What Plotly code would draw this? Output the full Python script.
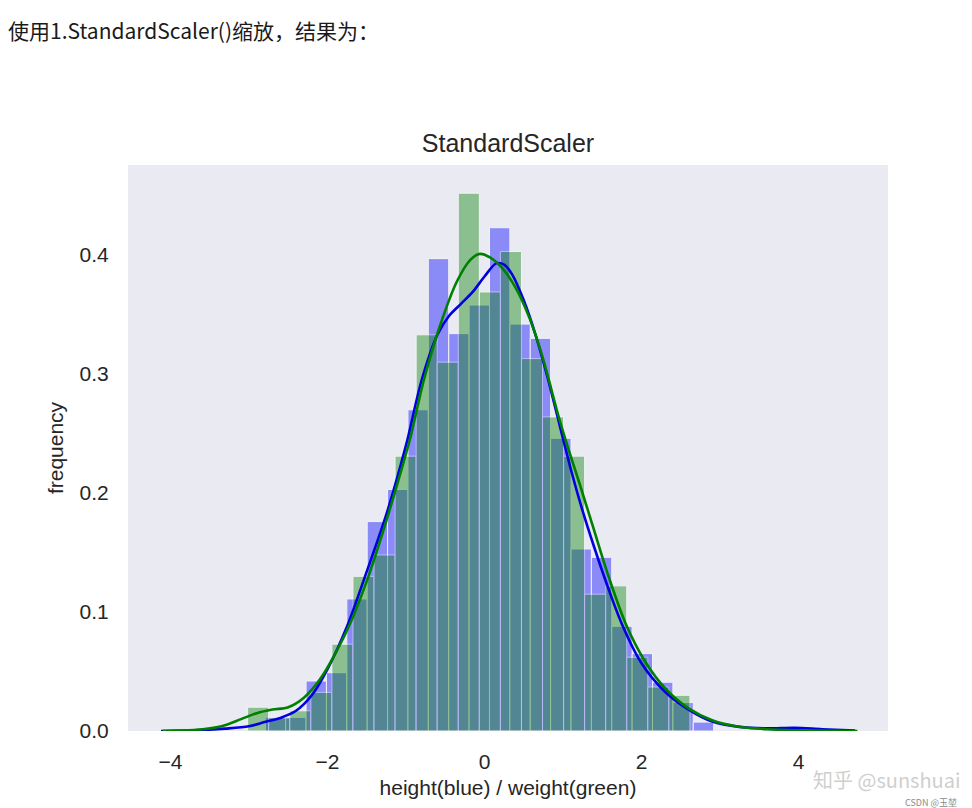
import numpy as np
import plotly.graph_objects as go

# ---------------- data ----------------
blue_bin_start = -2.792
blue_bin_width = 0.2596
blue_density = [0.0115, 0.0115, 0.042, 0.049, 0.111, 0.176, 0.203, 0.270, 0.397, 0.334,
                0.358, 0.423, 0.342, 0.330, 0.246, 0.153, 0.146, 0.088, 0.065, 0.041,
                0.024, 0.0075]

green_bin_start = -3.017
green_bin_width = 0.2683
green_density = [0.020, 0.011, 0.017, 0.0325, 0.073, 0.130, 0.148, 0.231, 0.333, 0.310,
                 0.452, 0.369, 0.403, 0.313, 0.264, 0.231, 0.115, 0.122, 0.062, 0.037,
                 0.030]

blue_kde_x = [-4.12, -3.7, -3.3, -3.0, -2.8, -2.6, -2.4, -2.2, -2.0, -1.75, -1.5, -1.25,
              -1.0, -0.8, -0.6, -0.45, -0.3, -0.15, 0.0, 0.15, 0.25, 0.35, 0.5, 0.65, 0.8,
              0.95, 1.1, 1.25, 1.4, 1.55, 1.75, 2.0, 2.3, 2.6, 2.9, 3.25, 3.6, 3.95, 4.3, 4.72]
blue_kde_y = [0.0, 0.0005, 0.002, 0.004, 0.0075, 0.011, 0.017, 0.030, 0.052, 0.088, 0.134, 0.182,
              0.240, 0.295, 0.333, 0.349, 0.359, 0.369, 0.382, 0.393, 0.392, 0.384, 0.362, 0.333, 0.298,
              0.259, 0.220, 0.185, 0.154, 0.125, 0.090, 0.057, 0.033, 0.018, 0.008, 0.0035, 0.0022, 0.0027, 0.0015, 0.0003]

green_kde_x = [-4.1, -3.7, -3.35, -3.1, -2.9, -2.7, -2.5, -2.3, -2.1, -1.9, -1.7, -1.5, -1.3,
               -1.1, -0.95, -0.78, -0.57, -0.35, -0.18, -0.06, 0.07, 0.24, 0.41, 0.58, 0.75,
               0.92, 1.05, 1.22, 1.39, 1.56, 1.8, 2.05, 2.3, 2.6, 2.9, 3.2, 3.6, 4.0, 4.4, 4.75]
green_kde_y = [0.0, 0.0008, 0.004, 0.010, 0.015, 0.018, 0.020, 0.028, 0.043, 0.065, 0.092, 0.126, 0.166,
               0.210, 0.245, 0.293, 0.340, 0.378, 0.396, 0.401, 0.398, 0.388, 0.371, 0.346, 0.312,
               0.270, 0.241, 0.206, 0.170, 0.134, 0.090, 0.058, 0.036, 0.019, 0.009, 0.004, 0.0015, 0.0006, 0.0002, 0.0]

x_tick_vals = [-4, -2, 0, 2, 4]
x_tick_text = ["\u22124", "\u22122", "0", "2", "4"]
y_tick_vals = [0.0, 0.1, 0.2, 0.3, 0.4]
y_tick_text = ["0.0", "0.1", "0.2", "0.3", "0.4"]

heading = "使用1.StandardScaler()缩放，结果为："
chart_title = "StandardScaler"
x_title = "height(blue) / weight(green)"
y_title = "frequency"
watermark = "知乎 @sunshuai"
credit = "CSDN @玉堃"

# ---------------- figure ----------------
W, H = 972, 808
L, R, T, B = 128, 84, 165, 77
PW, PH = W - L - R, H - T - B

def px_to_paper(px, py):
    return (px - L) / PW, (H - B - py) / PH

blue_centers = blue_bin_start + blue_bin_width * (np.arange(len(blue_density)) + 0.5)
green_centers = green_bin_start + green_bin_width * (np.arange(len(green_density)) + 0.5)

FONT = "Liberation Sans, Arial, DejaVu Sans, sans-serif"
TXT = "#262626"

fig = go.Figure()
fig.add_trace(go.Bar(x=blue_centers, y=blue_density, width=blue_bin_width,
                     marker=dict(color="#0000FF", line=dict(color="white", width=1)),
                     opacity=0.4, name="height", showlegend=False))
fig.add_trace(go.Bar(x=green_centers, y=green_density, width=green_bin_width,
                     marker=dict(color="#008000", line=dict(color="white", width=1)),
                     opacity=0.4, name="weight", showlegend=False))
fig.add_trace(go.Scatter(x=blue_kde_x, y=blue_kde_y, mode="lines",
                         line=dict(color="#0000E0", width=2.6, shape="spline", smoothing=0.9),
                         showlegend=False))
fig.add_trace(go.Scatter(x=green_kde_x, y=green_kde_y, mode="lines",
                         line=dict(color="#008000", width=2.6, shape="spline", smoothing=0.9),
                         showlegend=False))

fig.update_layout(
    width=W, height=H, autosize=False,
    margin=dict(l=L, r=R, t=T, b=B, pad=0),
    paper_bgcolor="white", plot_bgcolor="#EAEAF2",
    barmode="overlay",
    font=dict(family=FONT, size=21, color=TXT),
    title=dict(text=chart_title, font=dict(family=FONT, size=25, color=TXT),
               x=0.5, xref="paper", xanchor="center",
               y=1 - 143 / H, yref="container", yanchor="middle"),
    xaxis=dict(range=[-4.541, 5.140], tickvals=x_tick_vals, ticktext=x_tick_text,
               showgrid=False, zeroline=False, showline=False,
               ticks="outside", ticklen=12, tickcolor="rgba(0,0,0,0)",
               tickfont=dict(family=FONT, size=21, color=TXT),
               title=dict(text=x_title, font=dict(family=FONT, size=21, color=TXT), standoff=8)),
    yaxis=dict(range=[0, 0.4757], tickvals=y_tick_vals, ticktext=y_tick_text,
               showgrid=False, zeroline=False, showline=False,
               ticks="outside", ticklen=14, tickcolor="rgba(0,0,0,0)",
               tickfont=dict(family=FONT, size=21, color=TXT),
               title=dict(text=y_title, font=dict(family=FONT, size=21, color=TXT), standoff=10)),
)

hx, hy = px_to_paper(6, 30)
wx, wy = px_to_paper(812, 779)
cx, cy = px_to_paper(958, 802)
fig.add_annotation(text=heading, x=hx, y=hy, xref="paper", yref="paper",
                   xanchor="left", yanchor="middle", showarrow=False,
                   font=dict(family="Noto Sans CJK SC, sans-serif", size=21, color="#1a1a1a"))
fig.add_annotation(text=watermark, x=wx, y=wy, xref="paper", yref="paper",
                   xanchor="left", yanchor="middle", showarrow=False, borderpad=0,
                   font=dict(family="Noto Sans CJK SC, sans-serif", size=20, color="#cfcfcf"))
fig.add_annotation(text=credit, x=cx, y=cy, xref="paper", yref="paper",
                   xanchor="right", yanchor="middle", showarrow=False, borderpad=0,
                   font=dict(family="Noto Sans CJK SC, sans-serif", size=9, color="#8a8a8a"))

fig.write_html("out.html", config={"displayModeBar": False},
               post_script="document.body.style.margin='0';document.body.style.overflow='hidden';")
